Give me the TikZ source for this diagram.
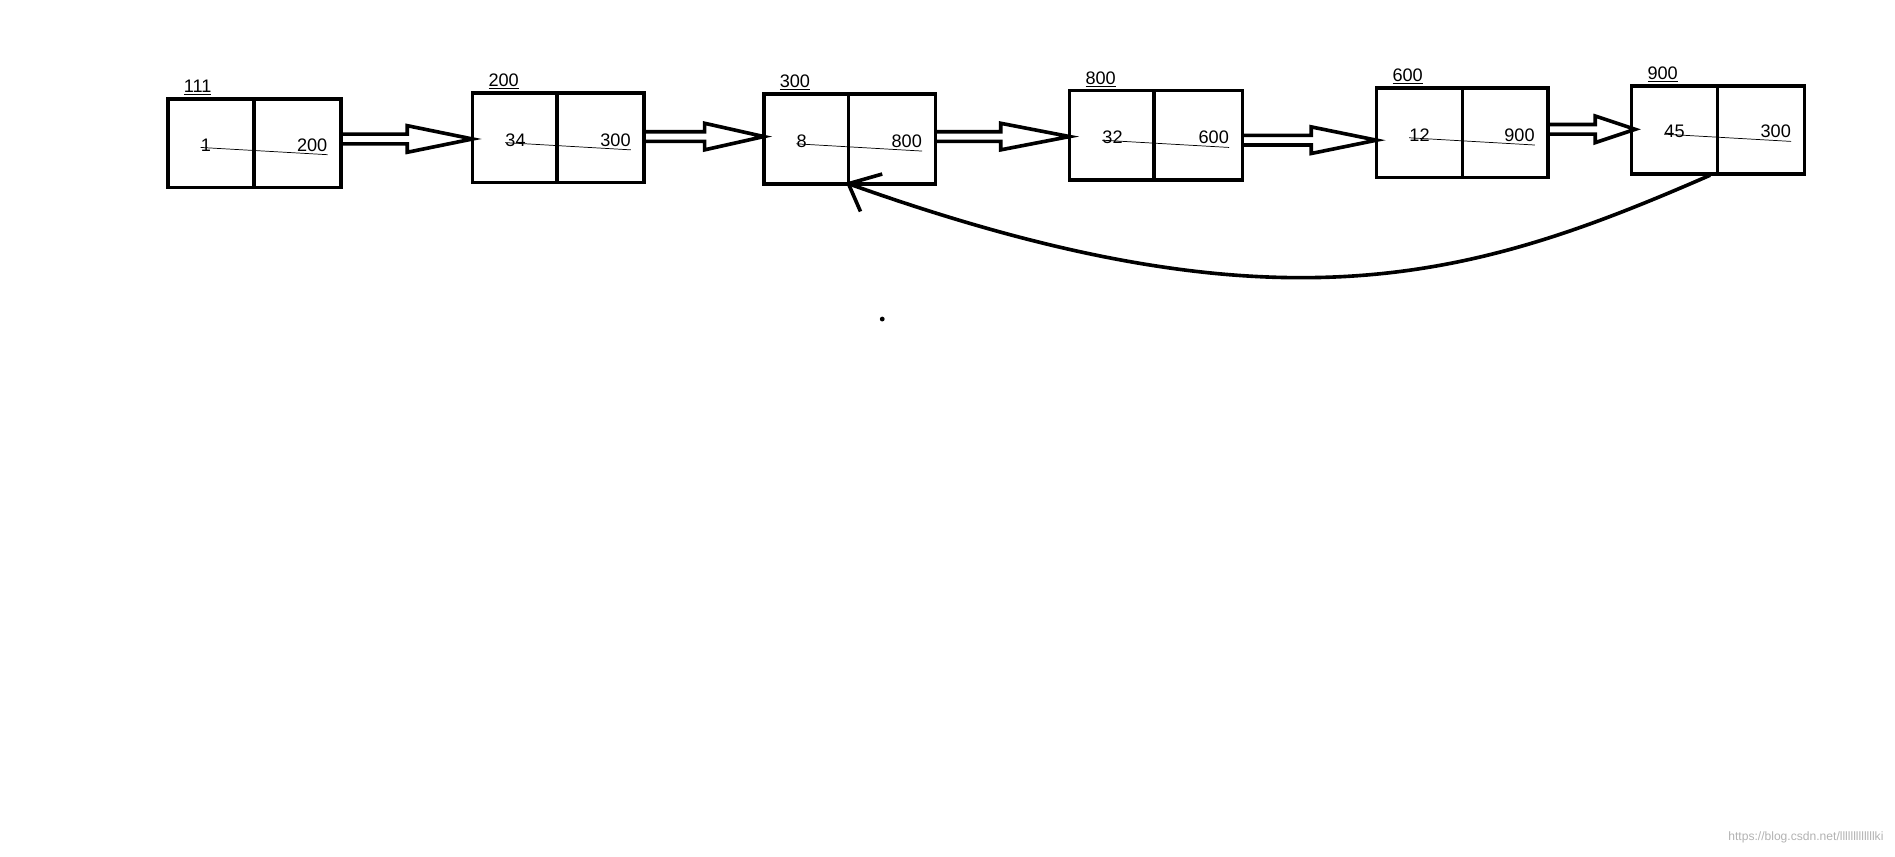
\documentclass[tikz,border=0pt]{standalone}
\usepackage{fontspec}
\setmainfont{Liberation Sans}
\newcommand{\hollowarr}[4]{% x1 x2 y headbase
  \draw[line width=3pt,line join=miter] (#1,#3-4) -- (#4,#3-4) -- (#4,#3-11) -- (#2,#3) -- (#4,#3+11) -- (#4,#3+4) -- (#1,#3+4);}
\newcommand{\cell}[9]{% name x1 x2 y1 y2 div label left right
  \node[draw,line width=3pt,minimum width=#3pt-#2pt,minimum height=#5pt-#4pt,inner sep=0pt] (#1) at ({(#2+#3)/2},{(#4+#5)/2}) {};
  \draw[line width=3pt] (#6,#4) -- (#6,#5);
  \node[anchor=south west,inner sep=0pt] (#1l) at (#2+13,#4-3) {\underline{#7}};
  \node[anchor=base west,inner sep=0pt] (#1a) at (#2+27,#5-30) {#8};
  \node[anchor=base east,inner sep=0pt] (#1b) at (#3-11,#5-30) {#9};
  \draw[line width=0.6pt] (#1a.base west) ++(0,-3) -- ([yshift=-3pt]#1b.base east);}
\begin{document}
\begin{tikzpicture}[x=1pt,y=-1pt,font=\fontsize{15}{18}\selectfont]
\useasboundingbox (0,0) rectangle (1568,709);
\cell{n1}{139}{282}{82}{155}{210}{111}{1}{200}
\cell{n2}{391}{533}{77}{151}{461}{200}{34}{300}
\cell{n3}{632}{774}{78}{152}{702}{300}{8}{800}
\cell{n4}{885}{1028}{75}{149}{955}{800}{32}{600}
\cell{n5}{1139}{1281}{73}{147}{1210}{600}{12}{900}
\cell{n6}{1350}{1493}{71}{144}{1421}{900}{45}{300}
\hollowarr{282}{391}{115}{337}
\hollowarr{533}{632}{113}{583}
\hollowarr{774}{885}{113}{828}
\hollowarr{1028}{1139}{116}{1085}
\hollowarr{1281}{1353}{107}{1320}
\coordinate (cs) at (1415,145);
\coordinate (ce) at (702,152);
\draw[line width=3pt] (cs) .. controls (1220,230) and (1060,280) .. (ce);
\draw[line width=3pt] (730,144) -- (ce) -- (712,175);
\fill (730,264) circle (2);
\node[anchor=east,text=gray!60,font=\fontsize{10}{12}\selectfont] (wm) at (1562,693) {https://blog.csdn.net/lllllllllllllki};
\end{tikzpicture}
\end{document}
